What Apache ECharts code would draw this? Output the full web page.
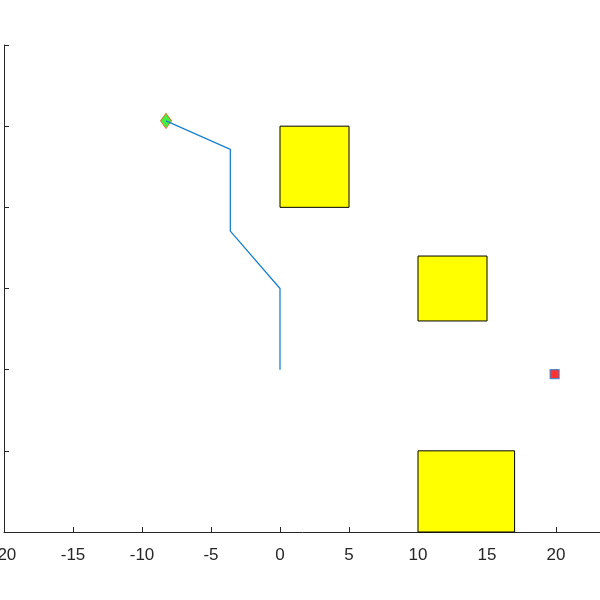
<!DOCTYPE html>
<html>
<head>
<meta charset="utf-8">
<script src="https://cdn.jsdelivr.net/npm/echarts@6/dist/echarts.min.js"></script>
<style>html,body{margin:0;padding:0;background:#fff}#c{width:600px;height:600px}</style>
</head>
<body>
<div id="c"></div>
<script>
// Path (x, y)
const pathX = [-8.26, -3.6, -3.6, 0, 0];
const pathY = [25.33, 23.57, 18.53, 15, 10];
// Start marker and goal marker
const startPt = [-8.26, 25.33];
const goalPt = [19.9, 9.73];
// Obstacles: [xmin, xmax, ymin, ymax]
const obsXmin = [0, 10, 10];
const obsXmax = [5, 15, 17];
const obsYmin = [20, 13, 0];
const obsYmax = [25, 17, 5];
// Axis ticks
const xTicks = [-20, -15, -10, -5, 0, 5, 10, 15, 20, 25];
const yTicks = [0, 5, 10, 15, 20, 25, 30];

const chart = echarts.init(document.getElementById('c'), null, {renderer: 'canvas'});
const axisColor = '#262626';
const obstacles = obsXmin.map((v, i) => [v, obsXmax[i], obsYmin[i], obsYmax[i]]);
chart.setOption({
  animation: false,
  grid: {left: 4, right: -25, top: 45, bottom: 68, containLabel: false, outerBoundsMode: 'none'},
  xAxis: {
    type: 'value', min: xTicks[0], max: xTicks[xTicks.length - 1], interval: 5,
    axisLine: {show: true, onZero: false, lineStyle: {color: axisColor, width: 1}},
    axisTick: {show: true, inside: true, length: 5, lineStyle: {color: axisColor}},
    axisLabel: {color: axisColor, fontSize: 17, fontFamily: 'Liberation Sans, Arial, sans-serif', margin: 15},
    splitLine: {show: false}
  },
  yAxis: {
    type: 'value', min: yTicks[0], max: yTicks[yTicks.length - 1], interval: 5,
    axisLine: {show: true, onZero: false, lineStyle: {color: axisColor, width: 1}},
    axisTick: {show: true, inside: true, length: 5, lineStyle: {color: axisColor}},
    axisLabel: {show: false},
    splitLine: {show: false}
  },
  series: [
    {
      type: 'custom',
      data: obstacles,
      renderItem: function (params, api) {
        const p1 = api.coord([api.value(0), api.value(3)]);
        const p2 = api.coord([api.value(1), api.value(2)]);
        return {
          type: 'rect',
          shape: {x: p1[0], y: p1[1], width: p2[0] - p1[0], height: p2[1] - p1[1]},
          style: {fill: '#ffff00', stroke: '#000000', lineWidth: 1}
        };
      },
      encode: {x: [0, 1], y: [2, 3]},
      z: 2
    },
    {
      type: 'scatter',
      data: [startPt],
      symbol: 'diamond',
      symbolSize: [11, 15],
      itemStyle: {color: '#11ee11', borderColor: '#e85a1a', borderWidth: 1},
      z: 3
    },
    {
      type: 'line',
      data: pathX.map((x, i) => [x, pathY[i]]),
      showSymbol: false,
      lineStyle: {color: '#1a80cc', width: 1.3},
      z: 4
    },
    {
      type: 'scatter',
      data: [goalPt],
      symbol: 'rect',
      symbolSize: 9,
      itemStyle: {color: '#ff0000', borderColor: '#2a7fd0', borderWidth: 1.2},
      z: 4
    }
  ]
});
</script>
</body>
</html>
